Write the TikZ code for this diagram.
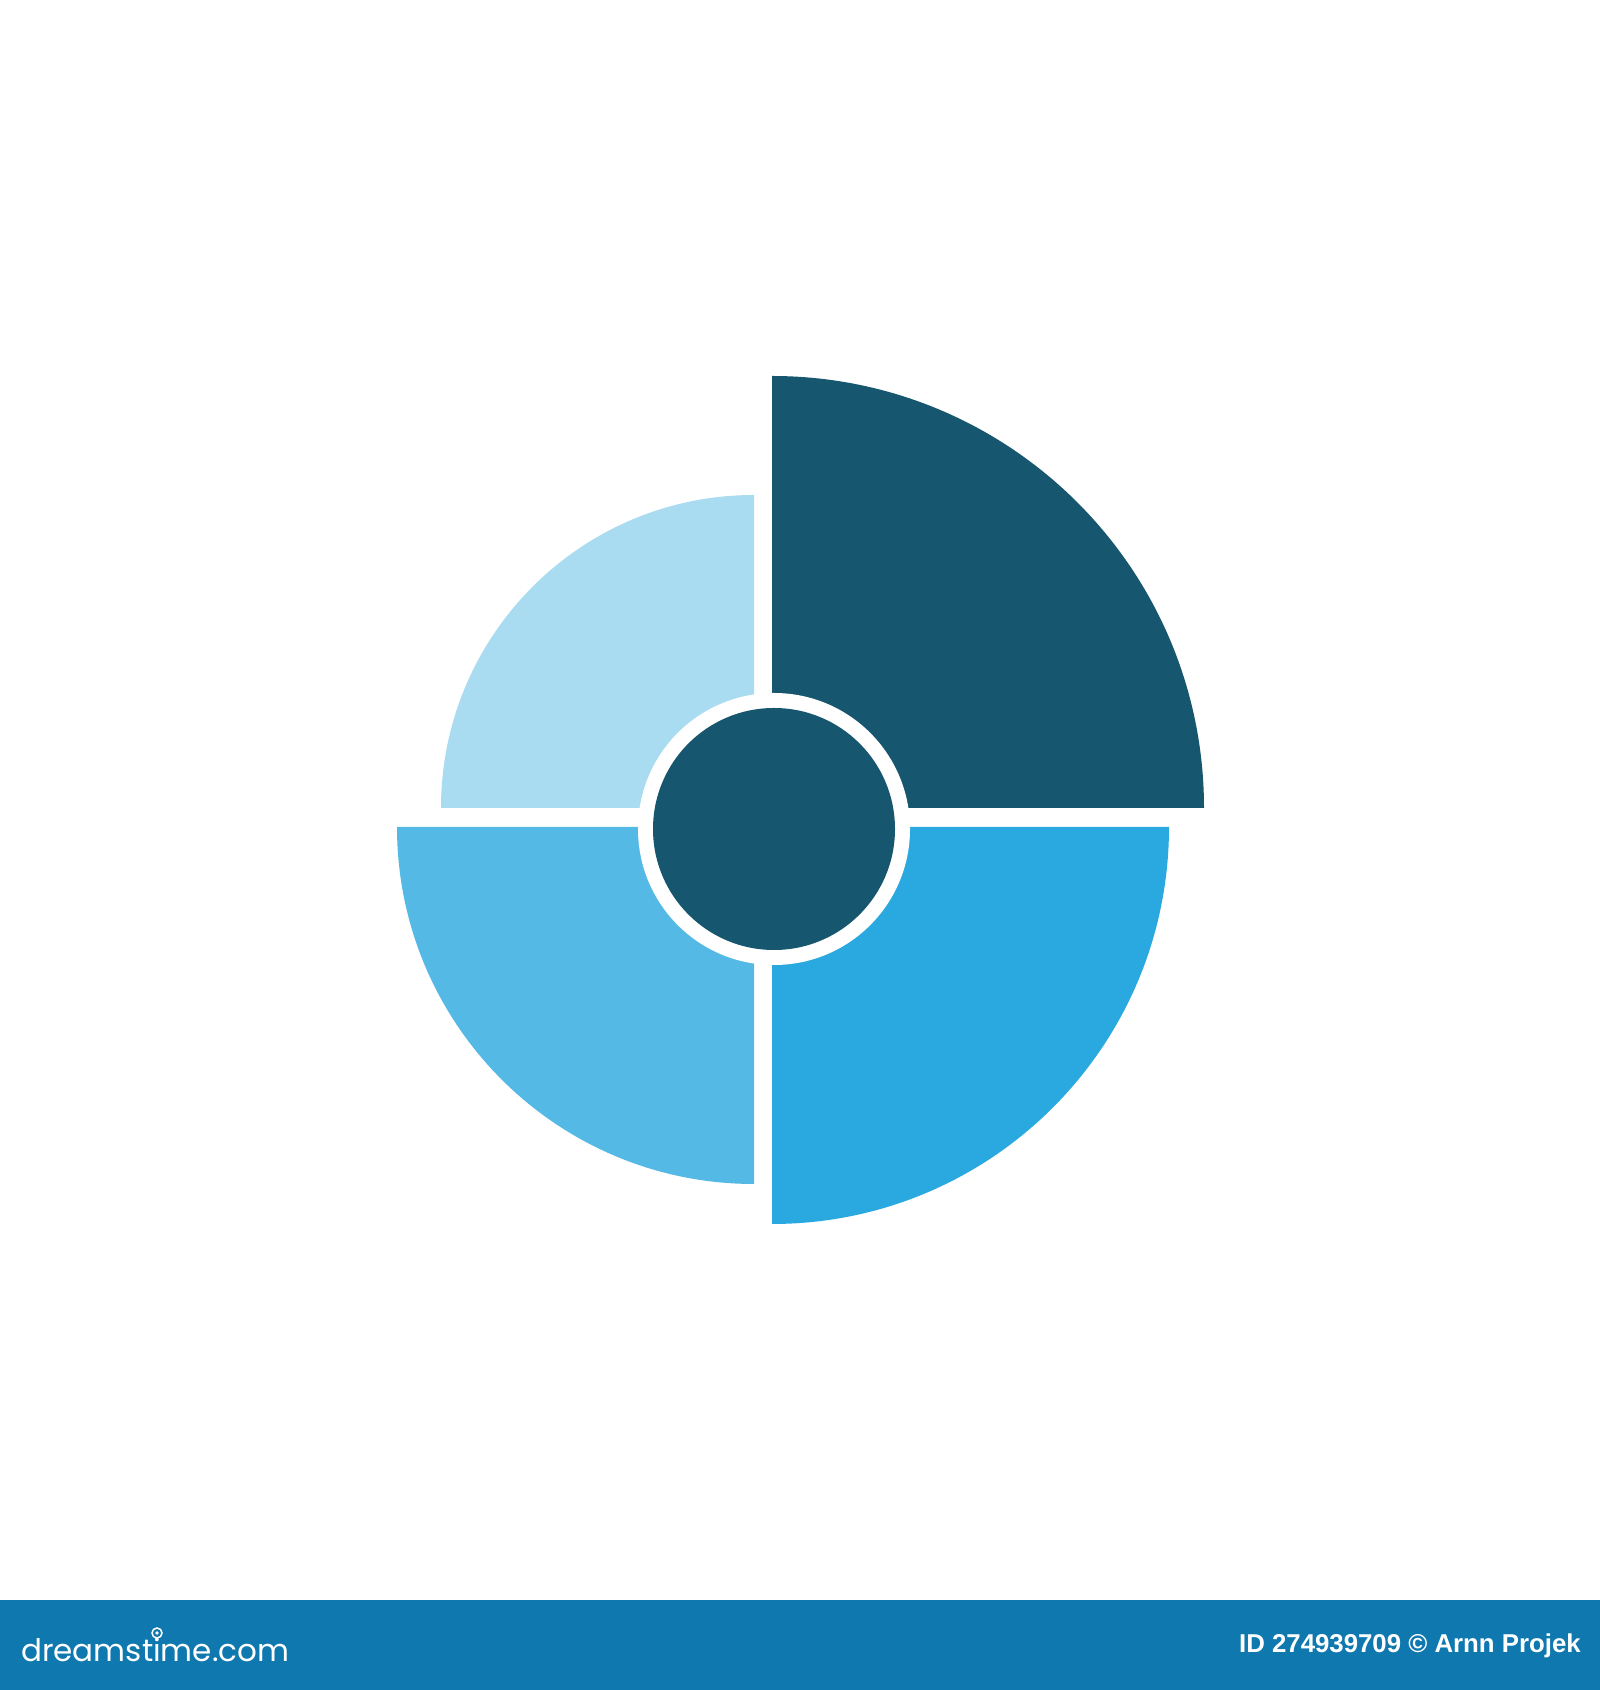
\documentclass[tikz,border=0pt]{standalone}
\usepackage{fontspec}
\setmainfont{Liberation Sans}
\newfontfamily\logofont{Poppins}
\definecolor{darkteal}{RGB}{22,86,111}
\definecolor{paleblue}{RGB}{169,219,241}
\definecolor{midblue}{RGB}{85,185,230}
\definecolor{brightblue}{RGB}{42,168,224}
\definecolor{bannerblue}{RGB}{15,120,175}
\begin{document}
\begin{tikzpicture}[x=1pt,y=1pt,
  banner text/.style={text=white,inner sep=0pt}]
\useasboundingbox (0,0) rectangle (1600,1690);
\fill[white] (0,0) rectangle (1600,1690);
% quadrants
\fill[darkteal] (772,882) -- ++(0,432) arc[start angle=90,end angle=0,radius=432] -- cycle;
\fill[paleblue] (754,882) -- ++(0,313) arc[start angle=90,end angle=180,radius=313] -- cycle;
\fill[midblue] (754,863) -- ++(-357,0) arc[start angle=180,end angle=270,radius=357] -- cycle;
\fill[brightblue] (772,863) -- ++(0,-397) arc[start angle=270,end angle=360,radius=397] -- cycle;
% centre
\fill[white] (774,861) circle[radius=136];
\node[circle,fill=darkteal,minimum size=242pt,inner sep=0pt] (hub) at (774,861) {};
% banner
\fill[bannerblue] (0,0) rectangle (1600,90);
\node[banner text,anchor=base west] (logo) at (21,28) {\logofont\fontsize{31}{36}\selectfont dreamstime.com};
\draw[white,line width=1.5pt] (157,57) circle[radius=5];
\fill[white] (157,57) circle[radius=1.8];
\node[banner text,anchor=base east] (credit) at (1581,37) {\bfseries\fontsize{25.8}{30}\selectfont ID 274939709 © Arnn Projek};
\end{tikzpicture}
\end{document}
